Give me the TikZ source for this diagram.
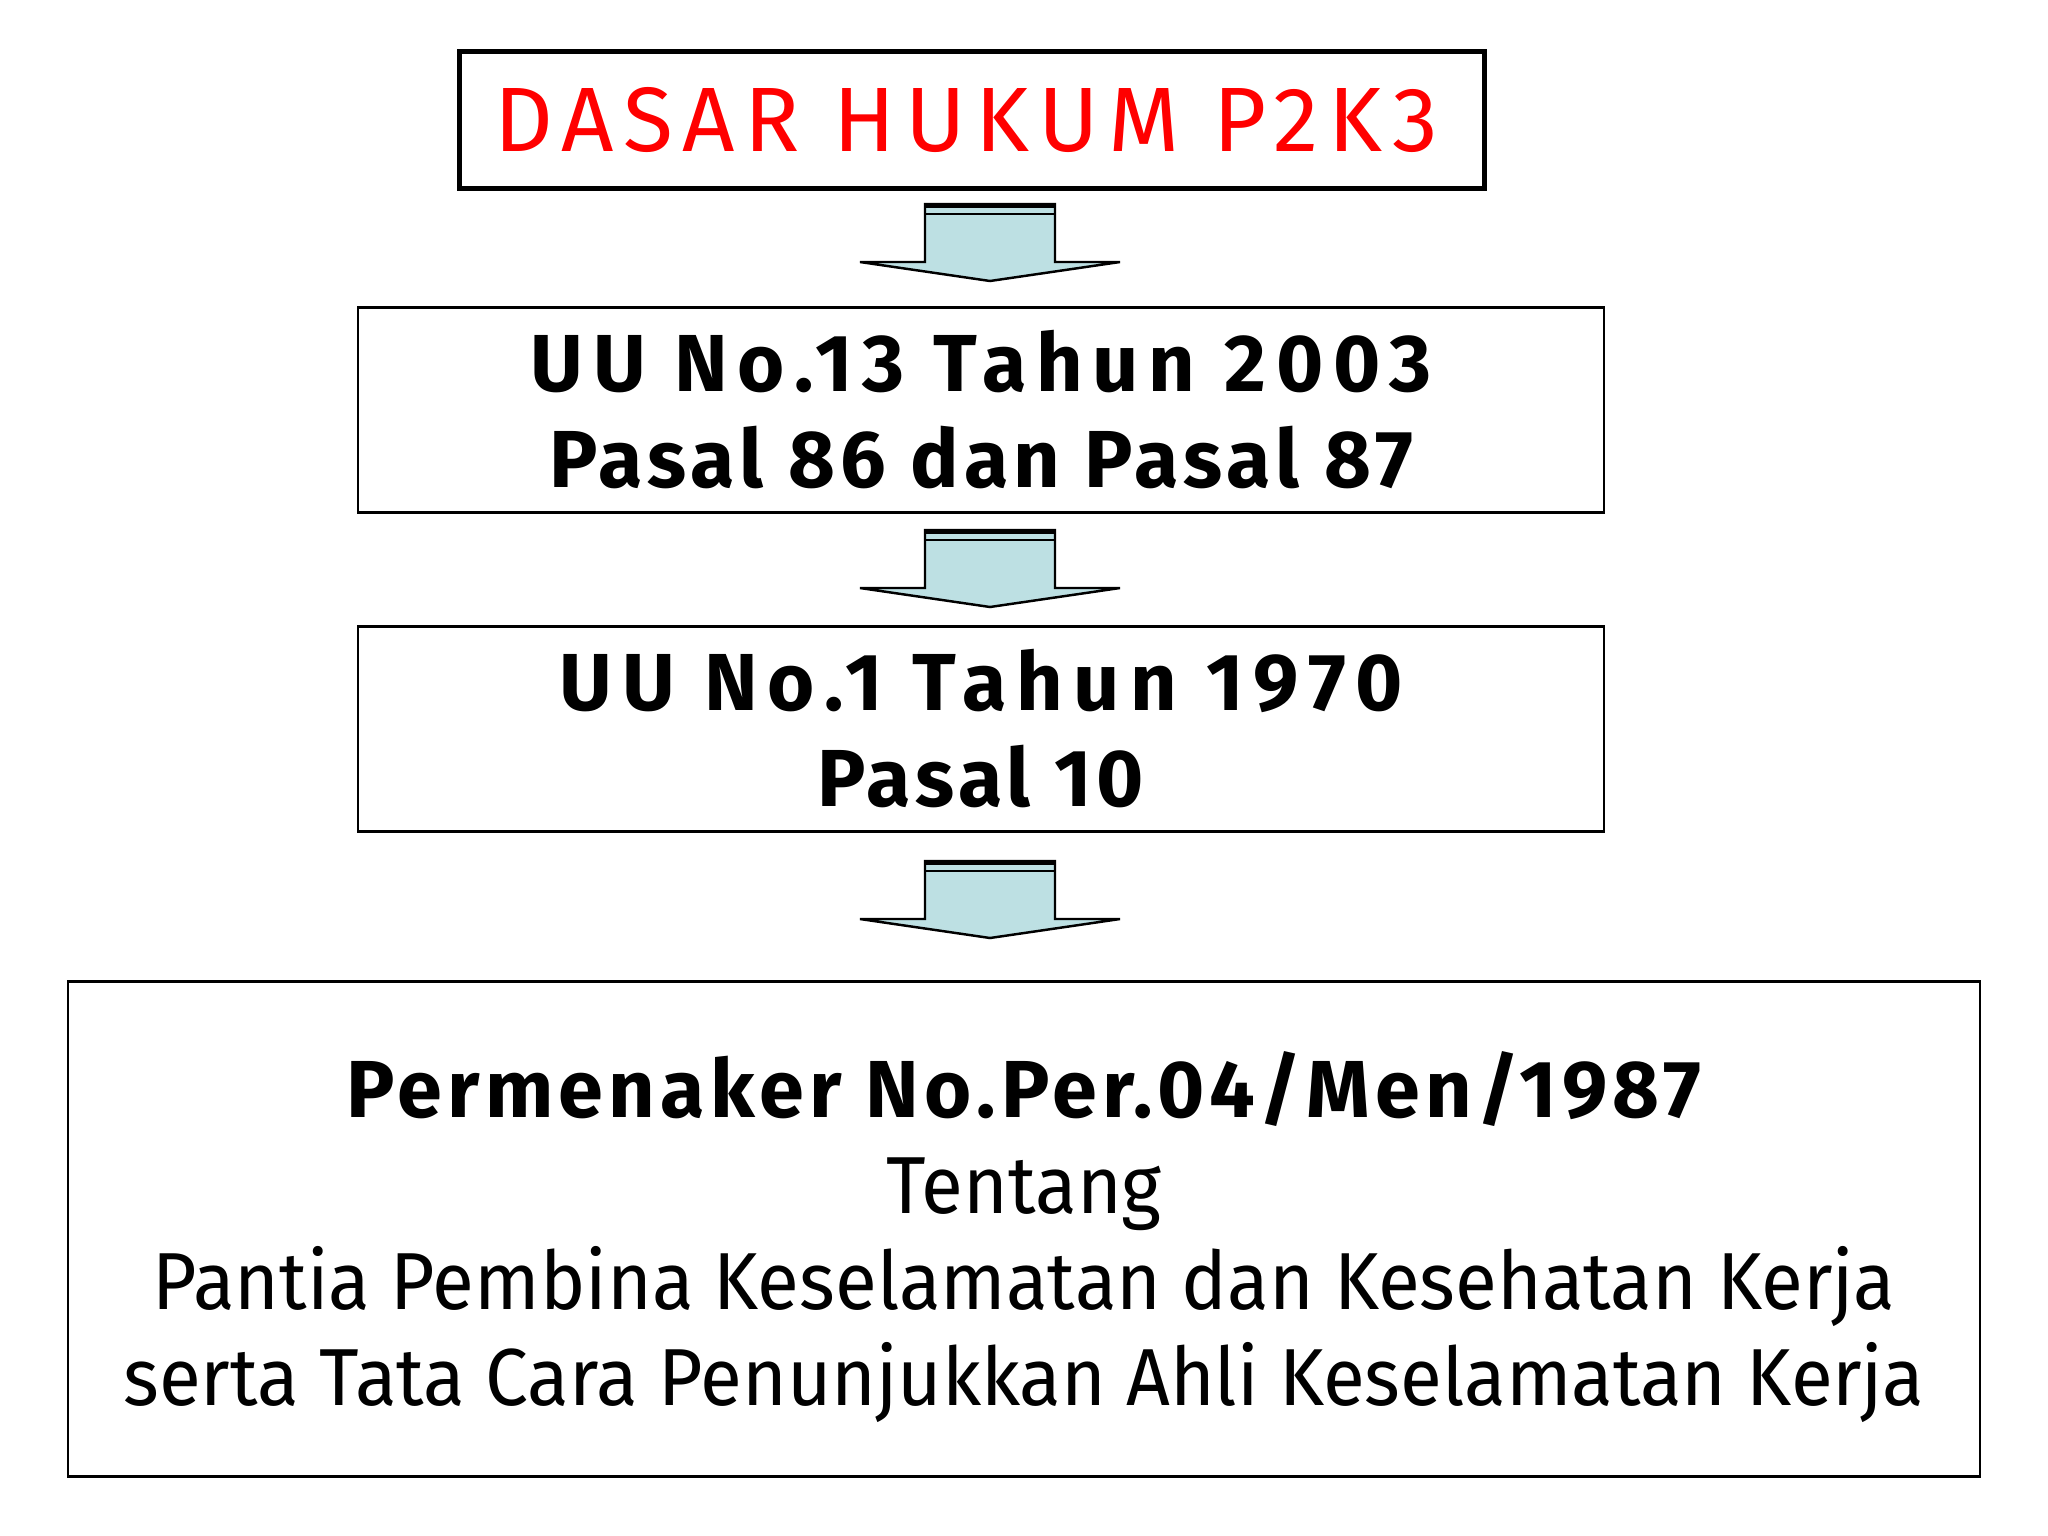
\documentclass[tikz,border=0pt]{standalone}
\usepackage{fontspec}
\setmainfont{Fira Sans}
\definecolor{arrowfill}{HTML}{BDE0E3}
\definecolor{titlered}{HTML}{FF0000}
\newcommand{\lsp}[2]{{\addfontfeature{LetterSpace=#1}#2}}
\newcommand{\nrw}[1]{{\addfontfeature{FakeStretch=0.946}#1}}
\begin{document}
\begin{tikzpicture}[x=0.01cm,y=-0.01cm,
  box/.style={draw=black, line width=0.6pt, fill=white, inner sep=0pt, align=center},
  txt/.style={inner sep=0pt, align=center},
  boldtxt/.style={font=\fontsize{23}{27.3}\selectfont\bfseries},
  bigarrow/.pic={
    \draw[line width=0.7pt, fill=arrowfill, line join=miter]
      (-65,0) -- (65,0) -- (65,58) -- (130,58) -- (0,77) -- (-130,58) -- (-65,58) -- cycle;
    \fill[black] (-65,0) rectangle (65,4);
    \draw[line width=0.6pt] (-65,10) -- (65,10);
  }]
\useasboundingbox (0,0) rectangle (2048,1536);
\fill[white] (0,0) rectangle (2048,1536);

\node[box, line width=1.4pt, minimum width=1025*0.01cm, minimum height=137*0.01cm] (title) at (972,120) {};
\node[txt, font=\fontsize{26}{30}\selectfont, text=titlered] (titletxt) at (966,120)
  {\lsp{10.5}{DASAR HUKUM P2K3}};

\node[box, minimum width=1246*0.01cm, minimum height=205*0.01cm, boldtxt] (uu13) at (981,410)
  {\lsp{12}{UU No.13 Tahun 2003}\\\lsp{6.5}{Pasal 86 dan Pasal 87}};

\node[box, minimum width=1246*0.01cm, minimum height=205*0.01cm, boldtxt] (uu1) at (981,729)
  {\lsp{12.5}{UU No.1 Tahun 1970}\\\lsp{6}{Pasal 10}};

\node[box, minimum width=1912*0.01cm, minimum height=495*0.01cm] (per) at (1024,1229) {};
\node[txt, font=\fontsize{23}{27.3}\selectfont] (pertxt) at (1024,1237)
  {{\bfseries\lsp{6.5}{Permenaker No.Per.04/Men/1987}}\\\nrw{Tentang}\\\nrw{Pantia Pembina Keselamatan dan Kesehatan Kerja}\\\nrw{serta Tata Cara Penunjukkan Ahli Keselamatan Kerja}};

\pic at (990,204) {bigarrow};
\pic at (990,530) {bigarrow};
\pic at (990,861) {bigarrow};
\end{tikzpicture}
\end{document}
